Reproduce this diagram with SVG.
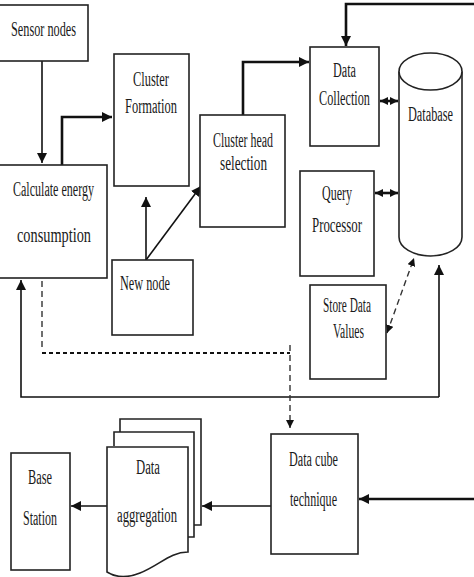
<svg xmlns="http://www.w3.org/2000/svg" width="474" height="577" viewBox="0 0 474 577">
<style>
.box{fill:#fff;stroke:#222;stroke-width:1.6}
.ln{fill:none;stroke:#111;stroke-width:1.6}
.thick{fill:none;stroke:#111;stroke-width:2.6}
.dash{fill:none;stroke:#333;stroke-width:1.4;stroke-dasharray:6 4}
.dot{fill:none;stroke:#111;stroke-width:2;stroke-dasharray:4 3}
text{font-family:"Liberation Serif","Times New Roman",serif;font-size:20px;fill:#1a1a1a}
</style>
<defs>
<marker id="ah" viewBox="0 0 10 10" refX="10" refY="5" markerWidth="10" markerHeight="10" markerUnits="userSpaceOnUse" orient="auto-start-reverse"><path d="M0,0 L10,5 L0,10 z" fill="#111"/></marker>
<marker id="ahs" viewBox="0 0 10 10" refX="10" refY="5" markerWidth="8" markerHeight="8" markerUnits="userSpaceOnUse" orient="auto-start-reverse"><path d="M0,0 L10,5 L0,10 z" fill="#111"/></marker>
</defs>
<rect width="474" height="577" fill="#fff"/>

<g id="connectors">
<path class="ln" d="M42,61 V163" marker-end="url(#ah)"/>
<path class="thick" d="M62,165 V117 H112" marker-end="url(#ah)"/>
<path class="ln" d="M146,260 V197" marker-end="url(#ah)"/>
<path class="ln" d="M146,260 L201,186" marker-end="url(#ah)"/>
<path class="thick" d="M243,115 V62 H309" marker-end="url(#ah)"/>
<path class="thick" d="M475,4 H346 V46" marker-end="url(#ah)"/>
<path class="thick" d="M380,101 H398" marker-start="url(#ahs)" marker-end="url(#ahs)"/>
<path class="thick" d="M375,193 H398" marker-start="url(#ahs)" marker-end="url(#ahs)"/>
<path class="dash" d="M387,333 L414,258" marker-start="url(#ahs)" marker-end="url(#ahs)"/>
<path class="ln" d="M439,397 V265" marker-end="url(#ah)"/>
<path class="ln" d="M439,397 H21 V280" marker-end="url(#ah)"/>
<path class="dash" d="M42,281 V348"/>
<path class="dot" d="M42,353 H290"/>
<path class="dash" d="M290,345 V428" marker-end="url(#ahs)"/>
<path class="thick" d="M475,499 H359" marker-end="url(#ah)"/>
<path class="ln" d="M271,506 H202" marker-end="url(#ah)"/>
<path class="ln" d="M107,506 H71" marker-end="url(#ah)"/>
</g>

<g id="sensor-nodes">
<rect class="box" x="-2" y="5" width="90" height="56"/>
<text x="11" y="36" textLength="65" lengthAdjust="spacingAndGlyphs">Sensor nodes</text>
</g>

<g id="calculate-energy">
<rect class="box" x="-2" y="165" width="109" height="113"/>
<text x="13" y="196" textLength="81" lengthAdjust="spacingAndGlyphs">Calculate energy</text>
<text x="17" y="242" font-size="23" textLength="74" lengthAdjust="spacingAndGlyphs">consumption</text>
</g>

<g id="cluster-formation">
<rect class="box" x="114" y="54" width="75" height="132"/>
<text x="133" y="86" textLength="36" lengthAdjust="spacingAndGlyphs">Cluster</text>
<text x="125" y="113" textLength="52" lengthAdjust="spacingAndGlyphs">Formation</text>
</g>

<g id="new-node">
<rect class="box" x="112" y="260" width="81" height="75"/>
<text x="120" y="290" textLength="50" lengthAdjust="spacingAndGlyphs">New node</text>
</g>

<g id="cluster-head-selection">
<rect class="box" x="200" y="115" width="85" height="112"/>
<text x="213" y="147" textLength="60" lengthAdjust="spacingAndGlyphs">Cluster head</text>
<text x="220" y="170" textLength="47" lengthAdjust="spacingAndGlyphs">selection</text>
</g>

<g id="data-collection">
<rect class="box" x="310" y="47" width="69" height="99"/>
<text x="333" y="77" textLength="23" lengthAdjust="spacingAndGlyphs">Data</text>
<text x="319" y="105" textLength="51" lengthAdjust="spacingAndGlyphs">Collection</text>
</g>

<g id="database">
<path class="box" d="M399,71.5 V237 A31.5,19 0 0 0 462,237 V71.5"/>
<ellipse class="box" cx="430.5" cy="71.5" rx="31.5" ry="18.5"/>
<text x="408" y="121" textLength="45" lengthAdjust="spacingAndGlyphs">Database</text>
</g>

<g id="query-processor">
<rect class="box" x="300" y="171" width="74" height="105"/>
<text x="322" y="200" textLength="30" lengthAdjust="spacingAndGlyphs">Query</text>
<text x="312" y="232" textLength="50" lengthAdjust="spacingAndGlyphs">Processor</text>
</g>

<g id="store-data-values">
<rect class="box" x="310" y="285" width="76" height="94"/>
<text x="323" y="312" textLength="48" lengthAdjust="spacingAndGlyphs">Store Data</text>
<text x="333" y="338" textLength="31" lengthAdjust="spacingAndGlyphs">Values</text>
</g>

<g id="data-cube-technique">
<rect class="box" x="271" y="434" width="87" height="120"/>
<text x="289" y="466" font-size="21" textLength="49" lengthAdjust="spacingAndGlyphs">Data cube</text>
<text x="290" y="506" font-size="21" textLength="47" lengthAdjust="spacingAndGlyphs">technique</text>
</g>

<g id="data-aggregation">
<path class="box" d="M120,433 V419 H201 V525 H194"/>
<path class="box" d="M114,446 V432 H194 V537 H188"/>
<path class="box" d="M107,447 H188 V552 C170,552 160,565 140,573 C125,579 115,577 107,572 Z"/>
<text x="136" y="474" font-size="21" textLength="24" lengthAdjust="spacingAndGlyphs">Data</text>
<text x="117" y="522" font-size="21" textLength="60" lengthAdjust="spacingAndGlyphs">aggregation</text>
</g>

<g id="base-station">
<rect class="box" x="11" y="453" width="59" height="117"/>
<text x="28" y="484" font-size="21" textLength="24" lengthAdjust="spacingAndGlyphs">Base</text>
<text x="23" y="525" font-size="21" textLength="34" lengthAdjust="spacingAndGlyphs">Station</text>
</g>
</svg>
